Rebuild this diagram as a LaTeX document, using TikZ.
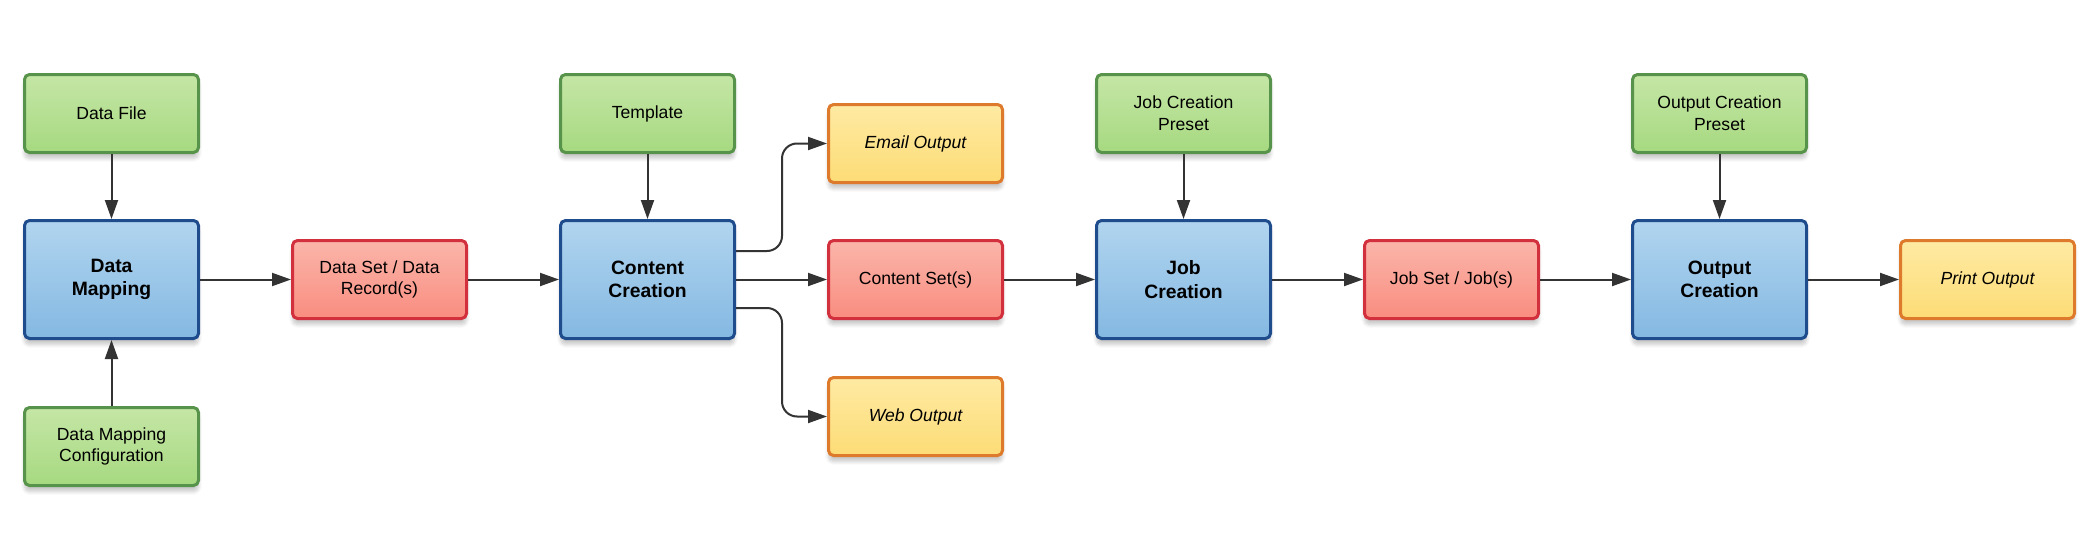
\documentclass[tikz,border=0pt]{standalone}
\usepackage{fontspec}
\setmainfont{Liberation Sans}
\usetikzlibrary{positioning,arrows.meta,shadows.blur}

\definecolor{grntop}{HTML}{C5E6A6}
\definecolor{grnbot}{HTML}{A6D980}
\definecolor{grnline}{HTML}{57934A}
\definecolor{blutop}{HTML}{B1D5EF}
\definecolor{blubot}{HTML}{84B8E2}
\definecolor{bluline}{HTML}{1E4C8C}
\definecolor{redtop}{HTML}{FBB5AA}
\definecolor{redbot}{HTML}{F98D80}
\definecolor{redline}{HTML}{D2303C}
\definecolor{yeltop}{HTML}{FEEAA3}
\definecolor{yelbot}{HTML}{FDDC76}
\definecolor{yelline}{HTML}{DE7A2C}
\definecolor{arrowgray}{HTML}{333333}

\begin{document}
\begin{tikzpicture}[
    node distance=1.82cm,
    box/.style={draw, line width=0.06cm, rounded corners=0.1cm, minimum width=3.48cm,
        minimum height=1.56cm, align=center, inner sep=2pt,
        font=\fontsize{10}{12.3}\selectfont,
        blur shadow={shadow xshift=0cm, shadow yshift=-0.12cm, shadow blur steps=6, shadow opacity=22}},
    inbox/.style={box, draw=grnline, top color=grntop, bottom color=grnbot},
    procbox/.style={box, draw=bluline, top color=blutop, bottom color=blubot,
        minimum height=2.36cm, font=\fontsize{11}{13.4}\selectfont\bfseries},
    setbox/.style={box, draw=redline, top color=redtop, bottom color=redbot},
    outbox/.style={box, draw=yelline, top color=yeltop, bottom color=yelbot,
        font=\fontsize{10}{12.3}\selectfont\itshape},
    flow/.style={-{Triangle[length=0.38cm,width=0.26cm]}, line width=0.04cm, draw=arrowgray},
]
    \useasboundingbox (0,0) rectangle (42,-11.2);

    \node (mapping) [procbox] at (2.23,-5.59) {Data\\Mapping};
    \node (datafile) [inbox, above=1.3cm of mapping] {Data File};
    \node (config) [inbox, below=1.32cm of mapping] {Data Mapping\\Configuration};
    \node (dataset) [setbox, right=of mapping] {Data Set / Data\\Record(s)};

    \node (content) [procbox, right=of dataset] {Content\\Creation};
    \node (template) [inbox, above=1.3cm of content] {Template};
    \node (contentset) [setbox, right=of content] {Content Set(s)};
    \node (email) [outbox, above=1.1cm of contentset] {Email Output};
    \node (web) [outbox, below=1.12cm of contentset] {Web Output};

    \node (job) [procbox, right=of contentset] {Job\\Creation};
    \node (jobpreset) [inbox, above=1.3cm of job] {Job Creation\\Preset};
    \node (jobset) [setbox, right=of job] {Job Set / Job(s)};

    \node (output) [procbox, right=of jobset] {Output\\Creation};
    \node (outpreset) [inbox, above=1.3cm of output] {Output Creation\\Preset};
    \node (print) [outbox, right=of output] {Print Output};

    \draw[flow] (datafile) -- (mapping);
    \draw[flow] (config) -- (mapping);
    \draw[flow] (mapping) -- (dataset);
    \draw[flow] (dataset) -- (content);
    \draw[flow] (template) -- (content);
    \draw[flow] (content) -- (contentset);
    \draw[flow, rounded corners=0.3cm] ([yshift=0.57cm]content.east) -- ++(0.92,0) |- (email);
    \draw[flow, rounded corners=0.3cm] ([yshift=-0.57cm]content.east) -- ++(0.92,0) |- (web);
    \draw[flow] (contentset) -- (job);
    \draw[flow] (jobpreset) -- (job);
    \draw[flow] (job) -- (jobset);
    \draw[flow] (jobset) -- (output);
    \draw[flow] (outpreset) -- (output);
    \draw[flow] (output) -- (print);
\end{tikzpicture}
\end{document}
